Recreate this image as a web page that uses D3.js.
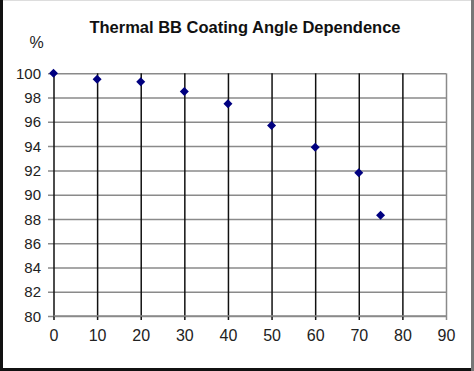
<!DOCTYPE html>
<html>
<head>
<meta charset="utf-8">
<script src="https://cdn.jsdelivr.net/npm/d3@7"></script>
<style>
    body { margin: 0; background: #fff; }
    svg { display: block; font-family: "Liberation Sans", Arial, sans-serif; }
</style>
</head>
<body>
<div id="plot"></div>
<script>
// data
const angles = [0, 10, 20, 30, 40, 50, 60, 70, 75];
const percent = [100, 99.5, 99.3, 98.5, 97.5, 95.7, 93.9, 91.8, 88.3];
const xTicks = [0, 10, 20, 30, 40, 50, 60, 70, 80, 90];
const yTicks = [80, 82, 84, 86, 88, 90, 92, 94, 96, 98, 100];

const width = 474;
const height = 371;
const margin = {top: 73.3, right: 28, bottom: 55, left: 53.5};
const font = "Liberation Sans, Arial, sans-serif";

const svg = d3.select("#plot").append("svg")
    .attr("width", width)
    .attr("height", height);

// frame round the picture
svg.append("rect")
    .attr("x", 1.5).attr("y", 0.5)
    .attr("width", width - 3).attr("height", height - 2.5)
    .attr("fill", "none")
    .attr("stroke", "#ddd");
svg.append("line").attr("x1", 1.5).attr("x2", 1.5).attr("y1", 0).attr("y2", height)
    .attr("stroke", "#111").attr("stroke-width", 3);
svg.append("line").attr("x1", 0).attr("x2", width).attr("y1", 369.5).attr("y2", 369.5)
    .attr("stroke", "#111").attr("stroke-width", 3);
svg.append("line").attr("x1", 472.5).attr("x2", 472.5).attr("y1", 0).attr("y2", height)
    .attr("stroke", "#777").attr("stroke-width", 3);

// scales
const xScale = d3.scaleLinear()
    .domain([0, 90])
    .range([margin.left, width - margin.right]);

const yScale = d3.scaleLinear()
    .domain([80, 100])
    .range([height - margin.bottom, margin.top]);

// horizontal grid (grey)
const yAxis = d3.axisLeft(yScale)
    .tickValues(yTicks)
    .tickSize(-(width - margin.right - margin.left))
    .tickSizeOuter(0)
    .tickPadding(0);

const gy = svg.append("g")
    .attr("transform", `translate(${margin.left}, 0)`)
    .call(yAxis)
    .attr("font-family", font);
gy.select(".domain").remove();
gy.selectAll("line")
    .attr("x1", -5.5)
    .attr("stroke", "#8a8a8a")
    .attr("stroke-width", 1.5);
gy.selectAll("text")
    .attr("x", -12.5)
    .attr("dy", "0.34em")
    .attr("font-size", 15)
    .attr("fill", "#222");

// vertical grid (black) with ticks below the axis
const xAxis = d3.axisBottom(xScale)
    .tickValues(xTicks)
    .tickSize(4)
    .tickSizeOuter(0)
    .tickPadding(10);

const gx = svg.append("g")
    .attr("transform", `translate(0, ${height - margin.bottom})`)
    .call(xAxis)
    .attr("font-family", font);
gx.select(".domain").remove();
gx.selectAll("line")
    .attr("y1", -(height - margin.bottom - margin.top))
    .attr("stroke", d => d === 90 ? "#8a8a8a" : "#111")
    .attr("stroke-width", 1.5);
gx.selectAll("text")
    .attr("font-size", 16)
    .attr("fill", "#222");

// axis line at 80
svg.append("line")
    .attr("x1", xScale(0)).attr("x2", xScale(90))
    .attr("y1", yScale(80)).attr("y2", yScale(80))
    .attr("stroke", "#8a8a8a").attr("stroke-width", 1.5);

// points
const diamond = "M0,-4.5L4.5,0L0,4.5L-4.5,0Z";
svg.selectAll(".pt")
    .data(angles)
    .enter()
    .append("path")
    .attr("class", "pt")
    .attr("d", diamond)
    .attr("transform", (d, i) => `translate(${xScale(d)}, ${yScale(percent[i])})`)
    .attr("fill", "#000080");

// title and unit
svg.append("text")
    .attr("x", 245)
    .attr("y", 33)
    .attr("text-anchor", "middle")
    .attr("font-size", 16.5)
    .attr("font-weight", "bold")
    .attr("fill", "#111")
    .text("Thermal BB Coating Angle Dependence");

svg.append("text")
    .attr("x", 29.5)
    .attr("y", 47.5)
    .attr("font-size", 16)
    .attr("fill", "#222")
    .text("%");
</script>
</body>
</html>
